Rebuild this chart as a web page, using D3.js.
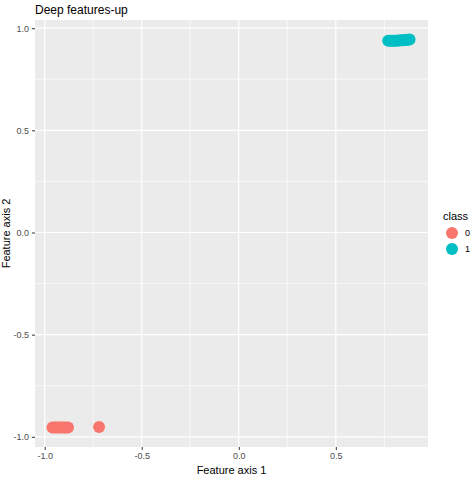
<!DOCTYPE html>
<html><head><meta charset="utf-8">
<script src="https://cdn.jsdelivr.net/npm/d3@7"></script>
<style>body{margin:0;background:#fff}text{font-family:Arial,"Liberation Sans",sans-serif}</style>
</head><body>
<svg width="474" height="481"></svg>
<script>
const class0X = [-0.96, -0.95, -0.94, -0.93, -0.92, -0.91, -0.90, -0.89, -0.88, -0.72];
const class0Y = [-0.955, -0.955, -0.955, -0.955, -0.955, -0.955, -0.955, -0.955, -0.955, -0.952];
const class1X = [0.77, 0.78, 0.79, 0.80, 0.81, 0.82, 0.83, 0.84, 0.85, 0.86, 0.87, 0.88];
const class1Y = [0.938, 0.938, 0.939, 0.939, 0.939, 0.940, 0.940, 0.941, 0.941, 0.942, 0.943, 0.944];
const ticks = [-1.0, -0.5, 0.0, 0.5];
const yTicks = [-1.0, -0.5, 0.0, 0.5, 1.0];
const classes = ["0", "1"];
const colors = ["#F8766D", "#00BFC4"];

const svg = d3.select("svg");
const L = 35, R = 428, T = 20, B = 447;
const x = d3.scaleLinear().domain([-1.05, 0.975]).range([L, R]);
const y = d3.scaleLinear().domain([-1.05, 1.04]).range([B, T]);
const fmt = d => d3.format(".1f")(d).replace("−", "-");

svg.append("rect").attr("x", L).attr("y", T).attr("width", R - L).attr("height", B - T).attr("fill", "#EBEBEB");
const minorX = ticks.map(t => t + 0.25).filter(t => x(t) < R);
const minorY = yTicks.slice(0, -1).map(t => t + 0.25);
const g = svg.append("g");
minorX.forEach(t => g.append("line").attr("x1", x(t)).attr("x2", x(t)).attr("y1", T).attr("y2", B).attr("stroke", "#fff").attr("stroke-width", 0.6));
minorY.forEach(t => g.append("line").attr("x1", L).attr("x2", R).attr("y1", y(t)).attr("y2", y(t)).attr("stroke", "#fff").attr("stroke-width", 0.6));
ticks.forEach(t => g.append("line").attr("x1", x(t)).attr("x2", x(t)).attr("y1", T).attr("y2", B).attr("stroke", "#fff").attr("stroke-width", 1.2));
yTicks.forEach(t => g.append("line").attr("x1", L).attr("x2", R).attr("y1", y(t)).attr("y2", y(t)).attr("stroke", "#fff").attr("stroke-width", 1.2));

const xa = svg.append("g").attr("transform", `translate(0,${B})`)
  .call(d3.axisBottom(x).tickValues(ticks).tickFormat(fmt).tickSize(3).tickPadding(3));
const ya = svg.append("g").attr("transform", `translate(${L},0)`)
  .call(d3.axisLeft(y).tickValues(yTicks).tickFormat(fmt).tickSize(3).tickPadding(3));
[xa, ya].forEach(a => {
  a.select(".domain").remove();
  a.selectAll("line").attr("stroke", "#333");
  a.selectAll("text").attr("fill", "#4D4D4D").attr("font-size", 9);
});

const pts = svg.append("g");
[[class0X, class0Y], [class1X, class1Y]].forEach(([xs, ys], i) => {
  pts.selectAll(null).data(xs).enter().append("circle")
    .attr("cx", d => x(d)).attr("cy", (d, j) => y(ys[j])).attr("r", 6).attr("fill", colors[i]);
});

svg.append("text").attr("x", L).attr("y", 14).attr("font-size", 12).attr("fill", "#000").text("Deep features-up");
svg.append("text").attr("x", (L + R) / 2).attr("y", 474).attr("text-anchor", "middle").attr("font-size", 11).text("Feature axis 1");
svg.append("text").attr("transform", `translate(10,${(T + B) / 2}) rotate(-90)`).attr("text-anchor", "middle").attr("font-size", 11).text("Feature axis 2");

const lg = svg.append("g");
lg.append("text").attr("x", 443).attr("y", 220).attr("font-size", 11).text("class");
classes.forEach((c, i) => {
  lg.append("circle").attr("cx", 452).attr("cy", 233 + i * 16).attr("r", 6).attr("fill", colors[i]);
  lg.append("text").attr("x", 465).attr("y", 236 + i * 16).attr("font-size", 9).text(c);
});
</script>
</body></html>
